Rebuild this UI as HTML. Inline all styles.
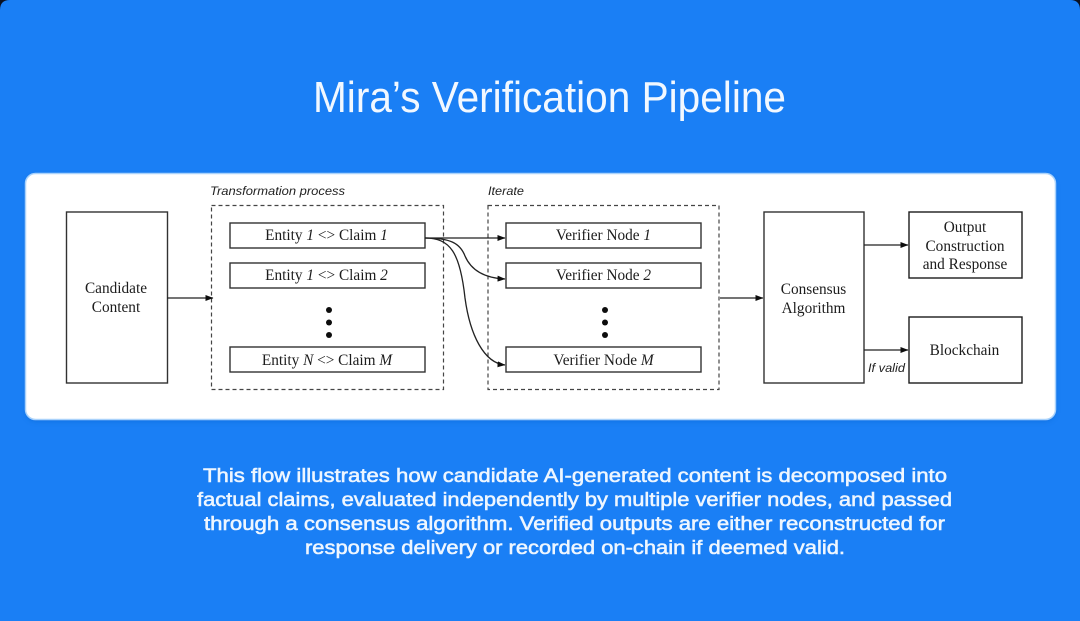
<!DOCTYPE html>
<html>
<head>
<meta charset="utf-8">
<style>
html,body{margin:0;padding:0;background:#0a1020;width:1080px;height:621px;overflow:hidden}
svg{display:block}
.s{font-family:"Liberation Serif",serif;font-size:15.3px;fill:#1c1c1c}
.i{font-style:italic}
.l{font-family:"Liberation Sans",sans-serif;font-style:italic;font-size:11.5px;fill:#222}
.b{fill:#fff;stroke:#333;stroke-width:1.4}
.c{font-family:"Liberation Sans",sans-serif;font-size:19.5px;fill:#eef6ff;stroke:#eef6ff;stroke-width:0.55;text-anchor:start}
</style>
</head>
<body>
<svg width="1080" height="621" viewBox="0 0 1080 621" xmlns="http://www.w3.org/2000/svg">
<defs>
<marker id="a" markerWidth="8" markerHeight="6" refX="7.5" refY="3" orient="auto" markerUnits="userSpaceOnUse"><path d="M0 0L8 3L0 6Z" fill="#111"/></marker>
<filter id="soft" x="-2%" y="-2%" width="104%" height="104%"><feGaussianBlur stdDeviation="0.35"/></filter>
<filter id="shadow" x="-3%" y="-6%" width="106%" height="116%"><feGaussianBlur stdDeviation="3"/></filter>
</defs>
<path d="M10 0H1070Q1080 0 1080 10V621H0V10Q0 0 10 0Z" fill="#1a7ff5"/>
<text x="313" y="112" font-family="Liberation Sans,sans-serif" font-size="44" fill="#f2f8ff" textLength="473" lengthAdjust="spacingAndGlyphs">Mira’s Verification Pipeline</text>
<rect x="26" y="176" width="1029" height="245" rx="10" fill="#0d5fc4" opacity="0.45" filter="url(#shadow)"/>
<rect x="25.5" y="173.500" width="1030" height="246" rx="10" fill="#fff" stroke="#a9d2fb" stroke-width="1.5"/>
<g filter="url(#soft)">
<text class="l" x="210" y="195" textLength="135" lengthAdjust="spacingAndGlyphs">Transformation process</text>
<text class="l" x="488" y="195" textLength="36" lengthAdjust="spacingAndGlyphs">Iterate</text>
<rect x="211.5" y="205.500" width="232" height="184" fill="none" stroke="#444" stroke-width="1.2" stroke-dasharray="4 3"/>
<rect x="488" y="205.500" width="231" height="184" fill="none" stroke="#444" stroke-width="1.2" stroke-dasharray="4 3"/>

<rect class="b" x="66.5" y="212" width="101" height="171"/>
<text class="s" text-anchor="middle" x="116" y="293">Candidate</text>
<text class="s" text-anchor="middle" x="116" y="312">Content</text>

<rect class="b" x="230" y="223" width="195" height="25"/>
<text class="s" text-anchor="middle" x="326.5" y="240">Entity <tspan class="i">1</tspan> &lt;&gt; Claim <tspan class="i">1</tspan></text>
<rect class="b" x="230" y="263" width="195" height="25"/>
<text class="s" text-anchor="middle" x="326.5" y="280">Entity <tspan class="i">1</tspan> &lt;&gt; Claim <tspan class="i">2</tspan></text>
<rect class="b" x="230" y="347" width="195" height="25"/>
<text class="s" text-anchor="middle" x="327" y="365">Entity <tspan class="i">N</tspan> &lt;&gt; Claim <tspan class="i">M</tspan></text>
<circle cx="329" cy="310" r="3" fill="#111"/><circle cx="329" cy="322.500" r="3" fill="#111"/><circle cx="329" cy="335" r="3" fill="#111"/>

<rect class="b" x="506" y="223" width="195" height="25"/>
<text class="s" text-anchor="middle" x="603.5" y="240">Verifier Node <tspan class="i">1</tspan></text>
<rect class="b" x="506" y="263" width="195" height="25"/>
<text class="s" text-anchor="middle" x="603.5" y="280">Verifier Node <tspan class="i">2</tspan></text>
<rect class="b" x="506" y="347" width="195" height="25"/>
<text class="s" text-anchor="middle" x="603.5" y="365">Verifier Node <tspan class="i">M</tspan></text>
<circle cx="605" cy="310" r="3" fill="#111"/><circle cx="605" cy="322.500" r="3" fill="#111"/><circle cx="605" cy="335" r="3" fill="#111"/>

<rect class="b" x="764" y="212" width="100" height="171"/>
<text class="s" text-anchor="middle" x="813.5" y="294">Consensus</text>
<text class="s" text-anchor="middle" x="813.5" y="313">Algorithm</text>

<rect class="b" x="909" y="212" width="113" height="66" style="stroke:#1c1c1c"/>
<text class="s" text-anchor="middle" x="965" y="232">Output</text>
<text class="s" text-anchor="middle" x="965" y="251">Construction</text>
<text class="s" text-anchor="middle" x="965" y="269">and Response</text>
<rect class="b" x="909" y="317" width="113" height="66" style="stroke:#1c1c1c"/>
<text class="s" text-anchor="middle" x="964.5" y="355">Blockchain</text>
<text class="l" x="868" y="372" textLength="37" lengthAdjust="spacingAndGlyphs">If valid</text>

<g fill="none" stroke="#222" stroke-width="1.3" marker-end="url(#a)">
<path d="M167 298H213" marker-end="url(#a)"/>
<path d="M425 238H505" marker-end="url(#a)"/>
<path d="M425 238C450 238 460 243 465 256C471 270 484 278 505 279" marker-end="url(#a)"/>
<path d="M425 238C450 238 460 252 465 298C470 335 484 363 505 365" marker-end="url(#a)"/>
<path d="M720 298H763" marker-end="url(#a)"/>
<path d="M864 245H908" marker-end="url(#a)"/>
<path d="M864 350H908" marker-end="url(#a)"/>
</g>
</g>
<text class="c" x="203" y="482" textLength="744" lengthAdjust="spacingAndGlyphs">This flow illustrates how candidate AI-generated content is decomposed into</text>
<text class="c" x="197" y="506" textLength="755" lengthAdjust="spacingAndGlyphs">factual claims, evaluated independently by multiple verifier nodes, and passed</text>
<text class="c" x="204" y="530" textLength="741" lengthAdjust="spacingAndGlyphs">through a consensus algorithm. Verified outputs are either reconstructed for</text>
<text class="c" x="305" y="554" textLength="540" lengthAdjust="spacingAndGlyphs">response delivery or recorded on-chain if deemed valid.</text>
</svg>
</body>
</html>
